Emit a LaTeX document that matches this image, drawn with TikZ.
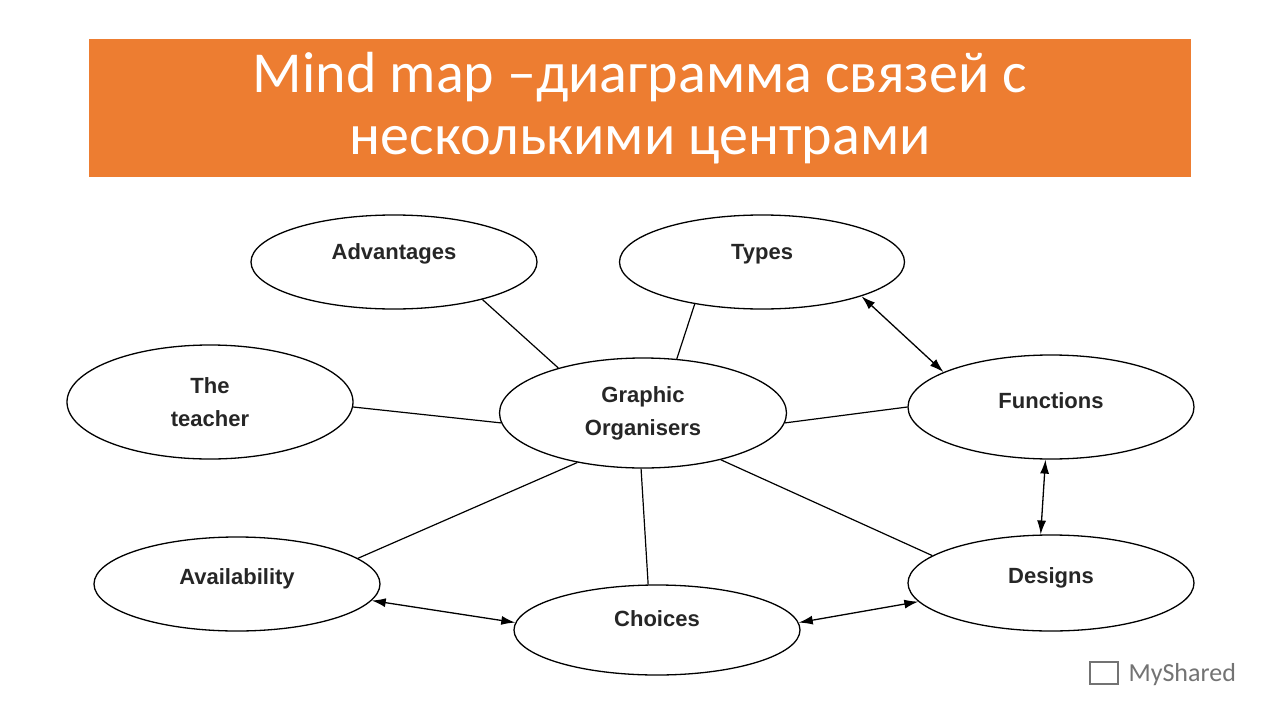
\documentclass[tikz,border=0pt]{standalone}
\usepackage{fontspec}
\setmainfont{Liberation Sans}
\newfontfamily\titlefont{Carlito}
\usetikzlibrary{shapes.geometric,arrows.meta}
\definecolor{orangeT}{HTML}{ED7D31}
\begin{document}
\begin{tikzpicture}[x=1pt,y=-1pt,
  bubble/.style={ellipse,draw,line width=1.3pt,inner sep=0pt,font=\bfseries\fontsize{22}{33}\selectfont,align=center,text=black!85},
  link/.style={line width=1.2pt},
  dbl/.style={line width=1.3pt,{Latex[length=14pt,width=9pt]}-{Latex[length=14pt,width=9pt]}}]
\useasboundingbox (0,0) rectangle (1280,720);
\fill[white] (0,0) rectangle (1280,720);
\fill[orangeT] (89,39) rectangle (1191,177);
\node[text=white,font=\titlefont\fontsize{58}{62}\selectfont,align=center] (title) at (640,108) {Mind map –диаграмма связей с\\несколькими центрами};
\node[bubble,minimum width=286,minimum height=94] (adv) at (394,262) {\raisebox{20pt}{Advantages}};
\node[bubble,minimum width=285,minimum height=94] (typ) at (762,262) {\raisebox{20pt}{Types}};
\node[bubble,minimum width=286,minimum height=114] (tea) at (210,402) {The\\teacher};
\node[bubble,minimum width=287,minimum height=110] (go) at (643,413) {Graphic\\Organisers};
\node[bubble,minimum width=286,minimum height=104] (fun) at (1051,407) {\raisebox{12pt}{Functions}};
\node[bubble,minimum width=286,minimum height=94] (ava) at (237,584) {\raisebox{14pt}{Availability}};
\node[bubble,minimum width=286,minimum height=90] (cho) at (657,630) {\raisebox{22pt}{Choices}};
\node[bubble,minimum width=286,minimum height=96] (des) at (1051,583) {\raisebox{14pt}{Designs}};
\draw[link] (adv.-23) -- (go.152);
\draw[link] (typ.-148) -- (go.58);
\draw[link] (tea.-2) -- (go.-176);
\draw[link] (fun.180) -- (go.-4);
\draw[link] (ava.12) -- (go.-143);
\draw[link] (cho.101) -- (go.-92);
\draw[link] (des.167) -- (go.-31);
\draw[dbl] (typ.-19) -- (fun.162);
\draw[dbl] (fun.-96) -- (des.102);
\draw[dbl] (ava.-7) -- (cho.177);
\draw[dbl] (cho.3) -- (des.-172);
\node[text=black!55,font=\titlefont\fontsize{26}{30}\selectfont,anchor=west] (logo) at (1125,675) {MyShared};
\draw[black!55,line width=1.5pt] (1090,662) rectangle (1118,684);
\end{tikzpicture}
\end{document}
